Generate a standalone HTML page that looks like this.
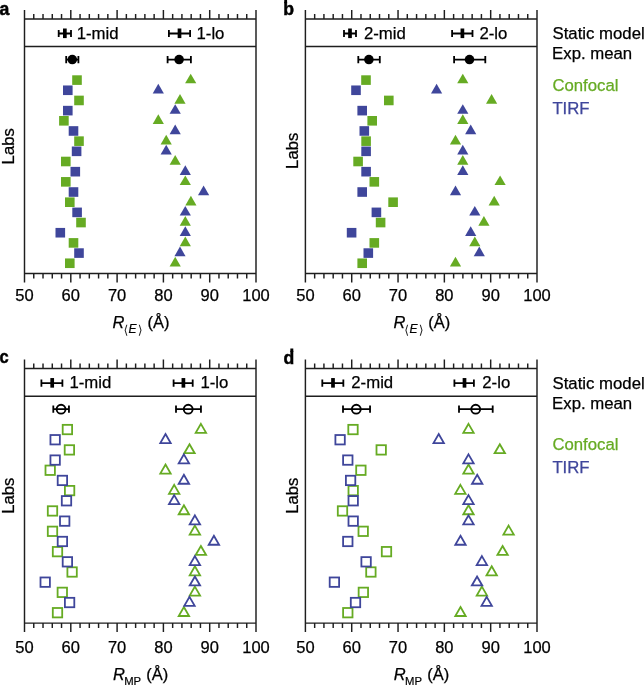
<!DOCTYPE html>
<html lang="en"><head><meta charset="utf-8"><title>Figure</title>
<style>
html,body{margin:0;padding:0;background:#fff;}
body{width:644px;height:685px;overflow:hidden;}
svg{display:block;}
text{font-family:"Liberation Sans",Arial,Helvetica,sans-serif;font-size:16.5px;fill:#000;stroke:#000;stroke-width:0.25px;}
.mk{stroke:#000;stroke-width:1.8;fill:none;}
.ax{stroke:#1e1e1e;stroke-width:1.45;fill:none;stroke-linecap:butt;}
.pl{font-weight:bold;font-size:19.2px;fill:#000;stroke-width:0.5px;}
.it{font-style:italic;}.lg{font-size:16.75px;}.lb{font-size:16.7px;}
.sub{font-size:12.2px;stroke-width:0.2px;}.sub2{font-size:11.3px;stroke-width:0.2px;}
.br{font-family:"DejaVu Sans","Liberation Sans",sans-serif;font-size:12.5px;stroke-width:0;fill:#222;}
.gf{fill:#66ab23;}.bf{fill:#3f469b;}
.go{fill:none;stroke:#66ab23;stroke-width:1.8;}.bo{fill:none;stroke:#3f469b;stroke-width:1.8;}
.gt{fill:none;stroke:#66ab23;stroke-width:1.8;stroke-linejoin:miter;}.bt{fill:none;stroke:#3f469b;stroke-width:1.8;stroke-linejoin:miter;}
.gtxt{fill:#66ab23;stroke:#66ab23;}.btxt{fill:#3f469b;stroke:#3f469b;}
</style></head><body>
<svg width="644" height="685" viewBox="0 0 644 685">
<rect x="0" y="0" width="644" height="685" fill="#ffffff"/>
<g id="panel-a">
<path class="ax" d="M24.5 19v-9M24.5 273.5v9M33.76 19v-5M33.76 273.5v5M43.02 19v-5M43.02 273.5v5M52.28 19v-5M52.28 273.5v5M61.54 19v-5M61.54 273.5v5M70.8 19v-9M70.8 273.5v9M80.06 19v-5M80.06 273.5v5M89.32 19v-5M89.32 273.5v5M98.58 19v-5M98.58 273.5v5M107.84 19v-5M107.84 273.5v5M117.1 19v-9M117.1 273.5v9M126.36 19v-5M126.36 273.5v5M135.62 19v-5M135.62 273.5v5M144.88 19v-5M144.88 273.5v5M154.14 19v-5M154.14 273.5v5M163.4 19v-9M163.4 273.5v9M172.66 19v-5M172.66 273.5v5M181.92 19v-5M181.92 273.5v5M191.18 19v-5M191.18 273.5v5M200.44 19v-5M200.44 273.5v5M209.7 19v-9M209.7 273.5v9M218.96 19v-5M218.96 273.5v5M228.22 19v-5M228.22 273.5v5M237.48 19v-5M237.48 273.5v5M246.74 19v-5M246.74 273.5v5M256 19v-9M256 273.5v9M24.5 19H256M24.5 46.55H256M24.5 273.5H256M24.5 19V273.5M256 19V273.5"/>
<text x="24.5" y="300.8" text-anchor="middle">50</text>
<text x="70.8" y="300.8" text-anchor="middle">60</text>
<text x="117.1" y="300.8" text-anchor="middle">70</text>
<text x="163.4" y="300.8" text-anchor="middle">80</text>
<text x="209.7" y="300.8" text-anchor="middle">90</text>
<text x="256" y="300.8" text-anchor="middle">100</text>
<text class="it" x="112.5" y="328.1">R</text>
<text class="br" x="123.4" y="333.7">⟨</text>
<text class="sub it" x="128.6" y="333">E</text>
<text class="br" x="137.8" y="333.7">⟩</text>
<text x="147.4" y="328.1">(Å)</text>
<text class="lb" transform="translate(13.7 164.4) rotate(-90)">Labs</text>
<text class="pl" transform="translate(-0.6 15) scale(0.92 1)">a</text>
<path class="mk" d="M58.7 33.5H71M58.7 29.9v7.2M71 29.9v7.2"/>
<rect x="63" y="28.5" width="3.7" height="9.6" fill="#000"/>
<text class="lg" x="76.7" y="38.6">1-mid</text>
<path class="mk" d="M168.9 33.5H190.1M168.9 29.9v7.2M190.1 29.9v7.2"/>
<rect x="177.65" y="28.5" width="3.7" height="9.6" fill="#000"/>
<text class="lg" x="196.5" y="38.6">1-lo</text>
<path class="mk" d="M66.2 59.55H78.4M66.2 55.95v7.2M78.4 55.95v7.2"/>
<circle cx="72.3" cy="59.55" r="4.8" fill="#000"/>
<path class="mk" d="M167.6 59.55H190.9M167.6 55.95v7.2M190.9 55.95v7.2"/>
<circle cx="179.1" cy="59.55" r="4.8" fill="#000"/>
<rect class="gf" x="72.2" y="75.3" width="9.6" height="9.6"/>
<path class="gf" d="M190.7 73.63L196.3 83.33H185.1Z"/>
<rect class="gf" x="74.2" y="95.65" width="9.6" height="9.6"/>
<path class="gf" d="M180 93.98L185.6 103.68H174.4Z"/>
<rect class="gf" x="59.1" y="116" width="9.6" height="9.6"/>
<path class="gf" d="M158.3 114.33L163.9 124.03H152.7Z"/>
<rect class="gf" x="74.2" y="136.35" width="9.6" height="9.6"/>
<path class="gf" d="M166.2 134.68L171.8 144.38H160.6Z"/>
<rect class="gf" x="61" y="156.7" width="9.6" height="9.6"/>
<path class="gf" d="M175.2 155.03L180.8 164.73H169.6Z"/>
<rect class="gf" x="61" y="177.05" width="9.6" height="9.6"/>
<path class="gf" d="M185.3 175.38L190.9 185.08H179.7Z"/>
<rect class="gf" x="65" y="197.4" width="9.6" height="9.6"/>
<path class="gf" d="M190.9 195.73L196.5 205.43H185.3Z"/>
<rect class="gf" x="76.2" y="217.75" width="9.6" height="9.6"/>
<path class="gf" d="M185.3 216.08L190.9 225.78H179.7Z"/>
<rect class="gf" x="68.7" y="238.1" width="9.6" height="9.6"/>
<path class="gf" d="M185.3 236.43L190.9 246.13H179.7Z"/>
<rect class="gf" x="65" y="258.45" width="9.6" height="9.6"/>
<path class="gf" d="M175.2 256.78L180.8 266.48H169.6Z"/>
<rect class="bf" x="63" y="85.47" width="9.6" height="9.6"/>
<path class="bf" d="M158.3 83.81L163.9 93.51H152.7Z"/>
<rect class="bf" x="63" y="105.83" width="9.6" height="9.6"/>
<path class="bf" d="M175.2 104.16L180.8 113.86H169.6Z"/>
<rect class="bf" x="68.7" y="126.17" width="9.6" height="9.6"/>
<path class="bf" d="M175.2 124.51L180.8 134.21H169.6Z"/>
<rect class="bf" x="71.8" y="146.52" width="9.6" height="9.6"/>
<path class="bf" d="M166.2 144.86L171.8 154.56H160.6Z"/>
<rect class="bf" x="70.5" y="166.88" width="9.6" height="9.6"/>
<path class="bf" d="M185.3 165.21L190.9 174.91H179.7Z"/>
<rect class="bf" x="68.7" y="187.22" width="9.6" height="9.6"/>
<path class="bf" d="M203.6 185.56L209.2 195.26H198Z"/>
<rect class="bf" x="72.3" y="207.57" width="9.6" height="9.6"/>
<path class="bf" d="M185.3 205.91L190.9 215.61H179.7Z"/>
<rect class="bf" x="55.5" y="227.92" width="9.6" height="9.6"/>
<path class="bf" d="M185.3 226.26L190.9 235.96H179.7Z"/>
<rect class="bf" x="74.2" y="248.28" width="9.6" height="9.6"/>
<path class="bf" d="M180 246.61L185.6 256.31H174.4Z"/>
</g>
<g id="panel-b">
<path class="ax" d="M305.4 19v-9M305.4 273.5v9M314.66 19v-5M314.66 273.5v5M323.93 19v-5M323.93 273.5v5M333.19 19v-5M333.19 273.5v5M342.46 19v-5M342.46 273.5v5M351.72 19v-9M351.72 273.5v9M360.98 19v-5M360.98 273.5v5M370.25 19v-5M370.25 273.5v5M379.51 19v-5M379.51 273.5v5M388.78 19v-5M388.78 273.5v5M398.04 19v-9M398.04 273.5v9M407.3 19v-5M407.3 273.5v5M416.57 19v-5M416.57 273.5v5M425.83 19v-5M425.83 273.5v5M435.1 19v-5M435.1 273.5v5M444.36 19v-9M444.36 273.5v9M453.62 19v-5M453.62 273.5v5M462.89 19v-5M462.89 273.5v5M472.15 19v-5M472.15 273.5v5M481.42 19v-5M481.42 273.5v5M490.68 19v-9M490.68 273.5v9M499.94 19v-5M499.94 273.5v5M509.21 19v-5M509.21 273.5v5M518.47 19v-5M518.47 273.5v5M527.74 19v-5M527.74 273.5v5M537 19v-9M537 273.5v9M305.4 19H537M305.4 46.55H537M305.4 273.5H537M305.4 19V273.5M537 19V273.5"/>
<text x="305.4" y="300.8" text-anchor="middle">50</text>
<text x="351.72" y="300.8" text-anchor="middle">60</text>
<text x="398.04" y="300.8" text-anchor="middle">70</text>
<text x="444.36" y="300.8" text-anchor="middle">80</text>
<text x="490.68" y="300.8" text-anchor="middle">90</text>
<text x="537" y="300.8" text-anchor="middle">100</text>
<text class="it" x="393.4" y="328.1">R</text>
<text class="br" x="404.3" y="333.7">⟨</text>
<text class="sub it" x="409.5" y="333">E</text>
<text class="br" x="418.7" y="333.7">⟩</text>
<text x="428.3" y="328.1">(Å)</text>
<text class="lb" transform="translate(297.75 168.9) rotate(-90)">Labs</text>
<text class="pl" transform="translate(283.2 15) scale(0.92 1)">b</text>
<rect x="284.27" y="-1" width="2.8" height="4.2" fill="#000"/>
<path class="mk" d="M344 33.5H356M344 29.9v7.2M356 29.9v7.2"/>
<rect x="348.15" y="28.5" width="3.7" height="9.6" fill="#000"/>
<text class="lg" x="363.9" y="38.6">2-mid</text>
<path class="mk" d="M452.1 33.5H472.5M452.1 29.9v7.2M472.5 29.9v7.2"/>
<rect x="460.55" y="28.5" width="3.7" height="9.6" fill="#000"/>
<text class="lg" x="479.4" y="38.6">2-lo</text>
<path class="mk" d="M358.3 59.55H379.8M358.3 55.95v7.2M379.8 55.95v7.2"/>
<circle cx="368.9" cy="59.55" r="4.8" fill="#000"/>
<path class="mk" d="M454.1 59.55H485.3M454.1 55.95v7.2M485.3 55.95v7.2"/>
<circle cx="469.5" cy="59.55" r="4.8" fill="#000"/>
<rect class="gf" x="361.2" y="75.3" width="9.6" height="9.6"/>
<path class="gf" d="M462.8 73.63L468.4 83.33H457.2Z"/>
<rect class="gf" x="384" y="95.65" width="9.6" height="9.6"/>
<path class="gf" d="M491.6 93.98L497.2 103.68H486Z"/>
<rect class="gf" x="367.4" y="116" width="9.6" height="9.6"/>
<path class="gf" d="M462.8 114.33L468.4 124.03H457.2Z"/>
<rect class="gf" x="361.3" y="136.35" width="9.6" height="9.6"/>
<path class="gf" d="M455.5 134.68L461.1 144.38H449.9Z"/>
<rect class="gf" x="353.3" y="156.7" width="9.6" height="9.6"/>
<path class="gf" d="M462.8 155.03L468.4 164.73H457.2Z"/>
<rect class="gf" x="369.5" y="177.05" width="9.6" height="9.6"/>
<path class="gf" d="M500.1 175.38L505.7 185.08H494.5Z"/>
<rect class="gf" x="388.3" y="197.4" width="9.6" height="9.6"/>
<path class="gf" d="M494.2 195.73L499.8 205.43H488.6Z"/>
<rect class="gf" x="375.8" y="217.75" width="9.6" height="9.6"/>
<path class="gf" d="M483.9 216.08L489.5 225.78H478.3Z"/>
<rect class="gf" x="369.5" y="238.1" width="9.6" height="9.6"/>
<path class="gf" d="M474.8 236.43L480.4 246.13H469.2Z"/>
<rect class="gf" x="357.4" y="258.45" width="9.6" height="9.6"/>
<path class="gf" d="M455.5 256.78L461.1 266.48H449.9Z"/>
<rect class="bf" x="351.2" y="85.47" width="9.6" height="9.6"/>
<path class="bf" d="M436.6 83.81L442.2 93.51H431Z"/>
<rect class="bf" x="357.4" y="105.83" width="9.6" height="9.6"/>
<path class="bf" d="M462.8 104.16L468.4 113.86H457.2Z"/>
<rect class="bf" x="359.5" y="126.17" width="9.6" height="9.6"/>
<path class="bf" d="M470.7 124.51L476.3 134.21H465.1Z"/>
<rect class="bf" x="361.3" y="146.52" width="9.6" height="9.6"/>
<path class="bf" d="M462.8 144.86L468.4 154.56H457.2Z"/>
<rect class="bf" x="361.3" y="166.88" width="9.6" height="9.6"/>
<path class="bf" d="M462.8 165.21L468.4 174.91H457.2Z"/>
<rect class="bf" x="357.4" y="187.22" width="9.6" height="9.6"/>
<path class="bf" d="M455.5 185.56L461.1 195.26H449.9Z"/>
<rect class="bf" x="371.6" y="207.57" width="9.6" height="9.6"/>
<path class="bf" d="M474.8 205.91L480.4 215.61H469.2Z"/>
<rect class="bf" x="346.8" y="227.92" width="9.6" height="9.6"/>
<path class="bf" d="M470.7 226.26L476.3 235.96H465.1Z"/>
<rect class="bf" x="363.5" y="248.28" width="9.6" height="9.6"/>
<path class="bf" d="M479.3 246.61L484.9 256.31H473.7Z"/>
</g>
<g id="panel-c">
<path class="ax" d="M24.5 368.4v-9M24.5 623.1v9M33.76 368.4v-5M33.76 623.1v5M43.02 368.4v-5M43.02 623.1v5M52.28 368.4v-5M52.28 623.1v5M61.54 368.4v-5M61.54 623.1v5M70.8 368.4v-9M70.8 623.1v9M80.06 368.4v-5M80.06 623.1v5M89.32 368.4v-5M89.32 623.1v5M98.58 368.4v-5M98.58 623.1v5M107.84 368.4v-5M107.84 623.1v5M117.1 368.4v-9M117.1 623.1v9M126.36 368.4v-5M126.36 623.1v5M135.62 368.4v-5M135.62 623.1v5M144.88 368.4v-5M144.88 623.1v5M154.14 368.4v-5M154.14 623.1v5M163.4 368.4v-9M163.4 623.1v9M172.66 368.4v-5M172.66 623.1v5M181.92 368.4v-5M181.92 623.1v5M191.18 368.4v-5M191.18 623.1v5M200.44 368.4v-5M200.44 623.1v5M209.7 368.4v-9M209.7 623.1v9M218.96 368.4v-5M218.96 623.1v5M228.22 368.4v-5M228.22 623.1v5M237.48 368.4v-5M237.48 623.1v5M246.74 368.4v-5M246.74 623.1v5M256 368.4v-9M256 623.1v9M24.5 368.4H256M24.5 396.2H256M24.5 623.1H256M24.5 368.4V623.1M256 368.4V623.1"/>
<text x="24.5" y="652.6" text-anchor="middle">50</text>
<text x="70.8" y="652.6" text-anchor="middle">60</text>
<text x="117.1" y="652.6" text-anchor="middle">70</text>
<text x="163.4" y="652.6" text-anchor="middle">80</text>
<text x="209.7" y="652.6" text-anchor="middle">90</text>
<text x="256" y="652.6" text-anchor="middle">100</text>
<text class="it" x="112.9" y="679.7">R</text>
<text class="sub2" x="124.2" y="684.6">MP</text>
<text x="146.3" y="679.7">(Å)</text>
<text class="lb" transform="translate(13.7 513.8) rotate(-90)">Labs</text>
<text class="pl" transform="translate(-0.4 363.4) scale(0.86 1)">c</text>
<path class="mk" d="M41.4 383.05H62.4M41.4 379.45v7.2M62.4 379.45v7.2"/>
<rect x="50.35" y="378.05" width="3.7" height="9.6" fill="#000"/>
<text class="lg" x="69.4" y="387.8">1-mid</text>
<path class="mk" d="M173.6 383.05H192.7M173.6 379.45v7.2M192.7 379.45v7.2"/>
<rect x="181.55" y="378.05" width="3.7" height="9.6" fill="#000"/>
<text class="lg" x="200.4" y="387.8">1-lo</text>
<path class="mk" d="M53.3 409.2H68.95M53.3 405.6v7.2M68.95 405.6v7.2"/>
<circle cx="61.05" cy="409.2" r="4.45" fill="none" stroke="#000" stroke-width="1.9"/>
<path class="mk" d="M176 409.2H200.95M176 405.6v7.2M200.95 405.6v7.2"/>
<circle cx="188.2" cy="409.2" r="4.45" fill="none" stroke="#000" stroke-width="1.9"/>
<rect class="go" x="62.7" y="424.85" width="9.4" height="9.4"/>
<path class="gt" d="M200.9 423.85L206.1 432.85H195.7Z"/>
<rect class="go" x="64.7" y="445.2" width="9.4" height="9.4"/>
<path class="gt" d="M189.5 444.2L194.7 453.2H184.3Z"/>
<rect class="go" x="45.5" y="465.55" width="9.4" height="9.4"/>
<path class="gt" d="M165.5 464.55L170.7 473.55H160.3Z"/>
<rect class="go" x="64.9" y="485.9" width="9.4" height="9.4"/>
<path class="gt" d="M174.2 484.9L179.4 493.9H169Z"/>
<rect class="go" x="47.8" y="506.25" width="9.4" height="9.4"/>
<path class="gt" d="M183.9 505.25L189.1 514.25H178.7Z"/>
<rect class="go" x="47.8" y="526.6" width="9.4" height="9.4"/>
<path class="gt" d="M194.9 525.6L200.1 534.6H189.7Z"/>
<rect class="go" x="52.8" y="546.95" width="9.4" height="9.4"/>
<path class="gt" d="M200.9 545.95L206.1 554.95H195.7Z"/>
<rect class="go" x="67.4" y="567.3" width="9.4" height="9.4"/>
<path class="gt" d="M194.9 566.3L200.1 575.3H189.7Z"/>
<rect class="go" x="57.6" y="587.65" width="9.4" height="9.4"/>
<path class="gt" d="M194.9 586.65L200.1 595.65H189.7Z"/>
<rect class="go" x="52.8" y="608" width="9.4" height="9.4"/>
<path class="gt" d="M183.9 607L189.1 616H178.7Z"/>
<rect class="bo" x="50.45" y="435.03" width="9.4" height="9.4"/>
<path class="bt" d="M165.5 434.03L170.7 443.03H160.3Z"/>
<rect class="bo" x="50.45" y="455.38" width="9.4" height="9.4"/>
<path class="bt" d="M183.9 454.38L189.1 463.38H178.7Z"/>
<rect class="bo" x="57.7" y="475.73" width="9.4" height="9.4"/>
<path class="bt" d="M183.9 474.73L189.1 483.73H178.7Z"/>
<rect class="bo" x="61.8" y="496.08" width="9.4" height="9.4"/>
<path class="bt" d="M174.2 495.08L179.4 504.08H169Z"/>
<rect class="bo" x="60" y="516.42" width="9.4" height="9.4"/>
<path class="bt" d="M194.9 515.42L200.1 524.42H189.7Z"/>
<rect class="bo" x="57.7" y="536.77" width="9.4" height="9.4"/>
<path class="bt" d="M213.9 535.77L219.1 544.77H208.7Z"/>
<rect class="bo" x="62.7" y="557.12" width="9.4" height="9.4"/>
<path class="bt" d="M194.9 556.12L200.1 565.12H189.7Z"/>
<rect class="bo" x="40.5" y="577.47" width="9.4" height="9.4"/>
<path class="bt" d="M194.9 576.47L200.1 585.47H189.7Z"/>
<rect class="bo" x="64.9" y="597.83" width="9.4" height="9.4"/>
<path class="bt" d="M189.5 596.83L194.7 605.83H184.3Z"/>
</g>
<g id="panel-d">
<path class="ax" d="M305.4 368.4v-9M305.4 623.1v9M314.66 368.4v-5M314.66 623.1v5M323.93 368.4v-5M323.93 623.1v5M333.19 368.4v-5M333.19 623.1v5M342.46 368.4v-5M342.46 623.1v5M351.72 368.4v-9M351.72 623.1v9M360.98 368.4v-5M360.98 623.1v5M370.25 368.4v-5M370.25 623.1v5M379.51 368.4v-5M379.51 623.1v5M388.78 368.4v-5M388.78 623.1v5M398.04 368.4v-9M398.04 623.1v9M407.3 368.4v-5M407.3 623.1v5M416.57 368.4v-5M416.57 623.1v5M425.83 368.4v-5M425.83 623.1v5M435.1 368.4v-5M435.1 623.1v5M444.36 368.4v-9M444.36 623.1v9M453.62 368.4v-5M453.62 623.1v5M462.89 368.4v-5M462.89 623.1v5M472.15 368.4v-5M472.15 623.1v5M481.42 368.4v-5M481.42 623.1v5M490.68 368.4v-9M490.68 623.1v9M499.94 368.4v-5M499.94 623.1v5M509.21 368.4v-5M509.21 623.1v5M518.47 368.4v-5M518.47 623.1v5M527.74 368.4v-5M527.74 623.1v5M537 368.4v-9M537 623.1v9M305.4 368.4H537M305.4 396.2H537M305.4 623.1H537M305.4 368.4V623.1M537 368.4V623.1"/>
<text x="305.4" y="652.6" text-anchor="middle">50</text>
<text x="351.72" y="652.6" text-anchor="middle">60</text>
<text x="398.04" y="652.6" text-anchor="middle">70</text>
<text x="444.36" y="652.6" text-anchor="middle">80</text>
<text x="490.68" y="652.6" text-anchor="middle">90</text>
<text x="537" y="652.6" text-anchor="middle">100</text>
<text class="it" x="393.8" y="679.7">R</text>
<text class="sub2" x="405.1" y="684.6">MP</text>
<text x="427.2" y="679.7">(Å)</text>
<text class="lb" transform="translate(297.75 513.8) rotate(-90)">Labs</text>
<text class="pl" transform="translate(283.5 363.5) scale(0.92 1)">d</text>
<rect x="290.35" y="348.5" width="2.94" height="3.5" fill="#000"/>
<path class="mk" d="M322.3 383.05H343.35M322.3 379.45v7.2M343.35 379.45v7.2"/>
<rect x="331.15" y="378.05" width="3.7" height="9.6" fill="#000"/>
<text class="lg" x="351.3" y="387.8">2-mid</text>
<path class="mk" d="M454.4 383.05H473.9M454.4 379.45v7.2M473.9 379.45v7.2"/>
<rect x="462.65" y="378.05" width="3.7" height="9.6" fill="#000"/>
<text class="lg" x="482.3" y="387.8">2-lo</text>
<path class="mk" d="M343 409.2H370.05M343 405.6v7.2M370.05 405.6v7.2"/>
<circle cx="356.3" cy="409.2" r="4.45" fill="none" stroke="#000" stroke-width="1.9"/>
<path class="mk" d="M459 409.2H492.7M459 405.6v7.2M492.7 405.6v7.2"/>
<circle cx="475.7" cy="409.2" r="4.45" fill="none" stroke="#000" stroke-width="1.9"/>
<rect class="go" x="348.3" y="424.85" width="9.4" height="9.4"/>
<path class="gt" d="M468.5 423.85L473.7 432.85H463.3Z"/>
<rect class="go" x="376.5" y="445.2" width="9.4" height="9.4"/>
<path class="gt" d="M499.8 444.2L505 453.2H494.6Z"/>
<rect class="go" x="356.2" y="465.55" width="9.4" height="9.4"/>
<path class="gt" d="M468.5 464.55L473.7 473.55H463.3Z"/>
<rect class="go" x="348.5" y="485.9" width="9.4" height="9.4"/>
<path class="gt" d="M460.4 484.9L465.6 493.9H455.2Z"/>
<rect class="go" x="337.8" y="506.25" width="9.4" height="9.4"/>
<path class="gt" d="M468.5 505.25L473.7 514.25H463.3Z"/>
<rect class="go" x="358.5" y="526.6" width="9.4" height="9.4"/>
<path class="gt" d="M508.6 525.6L513.8 534.6H503.4Z"/>
<rect class="go" x="381.8" y="546.95" width="9.4" height="9.4"/>
<path class="gt" d="M502.6 545.95L507.8 554.95H497.4Z"/>
<rect class="go" x="366.2" y="567.3" width="9.4" height="9.4"/>
<path class="gt" d="M491.7 566.3L496.9 575.3H486.5Z"/>
<rect class="go" x="358.65" y="587.65" width="9.4" height="9.4"/>
<path class="gt" d="M481.9 586.65L487.1 595.65H476.7Z"/>
<rect class="go" x="343.1" y="608" width="9.4" height="9.4"/>
<path class="gt" d="M460.5 607L465.7 616H455.3Z"/>
<rect class="bo" x="335.4" y="435.03" width="9.4" height="9.4"/>
<path class="bt" d="M438.7 434.03L443.9 443.03H433.5Z"/>
<rect class="bo" x="343.1" y="455.38" width="9.4" height="9.4"/>
<path class="bt" d="M468.5 454.38L473.7 463.38H463.3Z"/>
<rect class="bo" x="345.9" y="475.73" width="9.4" height="9.4"/>
<path class="bt" d="M477.2 474.73L482.4 483.73H472Z"/>
<rect class="bo" x="348.5" y="496.08" width="9.4" height="9.4"/>
<path class="bt" d="M468.5 495.08L473.7 504.08H463.3Z"/>
<rect class="bo" x="348.5" y="516.42" width="9.4" height="9.4"/>
<path class="bt" d="M468.5 515.42L473.7 524.42H463.3Z"/>
<rect class="bo" x="343.1" y="536.77" width="9.4" height="9.4"/>
<path class="bt" d="M460.5 535.77L465.7 544.77H455.3Z"/>
<rect class="bo" x="361.4" y="557.12" width="9.4" height="9.4"/>
<path class="bt" d="M481.9 556.12L487.1 565.12H476.7Z"/>
<rect class="bo" x="329.7" y="577.47" width="9.4" height="9.4"/>
<path class="bt" d="M477.05 576.47L482.25 585.47H471.85Z"/>
<rect class="bo" x="350.8" y="597.83" width="9.4" height="9.4"/>
<path class="bt" d="M486.7 596.83L491.9 605.83H481.5Z"/>
</g>
<text class="lg" x="552.5" y="39.3">Static model</text>
<text class="lg" x="552.1" y="59.4">Exp. mean</text>
<text class="lg gtxt" x="552.4" y="91.1">Confocal</text>
<text class="lg btxt" x="552.4" y="114.3">TIRF</text>
<text class="lg" x="552.5" y="389.3">Static model</text>
<text class="lg" x="552.1" y="409.4">Exp. mean</text>
<text class="lg gtxt" x="552.4" y="449.6">Confocal</text>
<text class="lg btxt" x="552.4" y="473.4">TIRF</text>
</svg>
</body></html>
